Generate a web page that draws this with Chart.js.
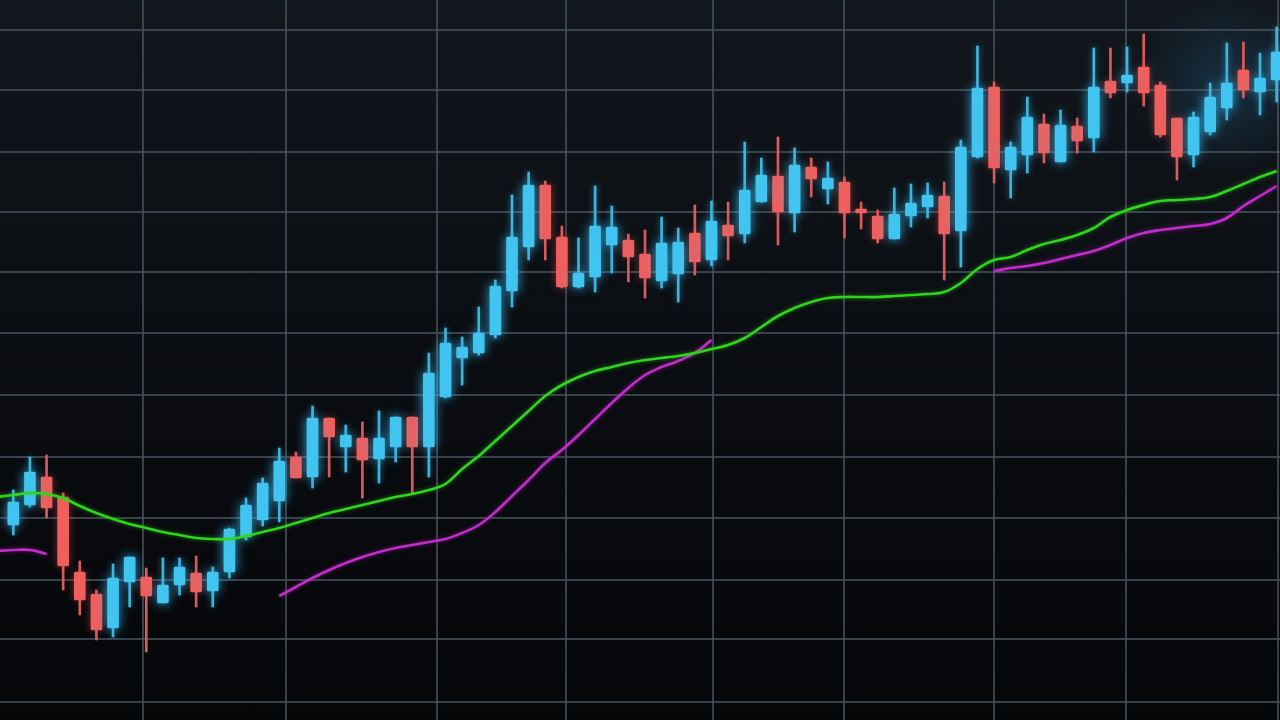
<!DOCTYPE html>
<html>
<head>
<meta charset="utf-8">
<script src="https://cdn.jsdelivr.net/npm/chart.js@4.4.1/dist/chart.umd.min.js"></script>
<style>
    html, body { margin: 0; padding: 0; }
    body {
        width: 1280px;
        height: 720px;
        overflow: hidden;
        background:
            radial-gradient(circle at 1225px 85px, rgba(40, 120, 170, 0.28) 0px, rgba(40, 120, 170, 0) 90px),
            linear-gradient(180deg, #12171d 0%, #0b0e12 45%, #050608 100%);
    }
    #wrap { position: relative; width: 1280px; height: 720px; }
</style>
</head>
<body>
<div id="wrap"><canvas id="chart"></canvas></div>
<script>
// OHLC per session (price units)
const opens = [47.5,49.5,52.3,50.3,42.8,40.6,37.2,41.8,42.3,39.7,
    41.5,42.7,40.9,42.8,46.3,48.0,49.9,54.3,52.3,58.2,
    55.3,56.2,54.1,55.3,58.3,55.3,60.3,64.2,64.7,66.5,
    70.9,75.3,81.5,76.3,71.3,72.3,75.5,76.0,74.6,71.9,
    72.6,76.7,74.0,77.5,76.6,79.8,82.4,78.7,83.3,81.1,
    81.8,79.1,78.4,76.1,78.4,79.3,80.4,76.9,84.3,91.3,
    83.0,84.5,87.6,83.8,87.4,86.2,91.9,91.7,93.3,91.5,
    88.2,84.5,86.8,89.2,93.0,90.8,92.0];
const highs = [51.0,54.3,54.5,50.7,43.9,41.0,43.6,44.3,43.2,44.2,
    44.2,44.4,43.3,47.2,50.2,52.2,55.2,54.8,59.4,58.2,
    57.5,57.8,58.9,58.3,58.3,64.7,67.2,66.3,69.3,72.0,
    80.5,82.8,81.9,77.4,76.2,81.4,79.4,76.6,77.0,78.3,
    77.2,79.5,79.9,79.8,85.8,84.2,86.3,85.2,84.2,83.8,
    82.3,79.8,79.0,81.2,81.6,81.7,81.8,86.0,95.4,91.8,
    85.8,90.3,88.6,89.0,88.2,95.2,95.2,95.3,96.6,91.8,
    88.2,88.8,91.7,95.7,95.8,94.7,97.3];
const lows = [46.5,49.3,48.2,41.0,38.5,36.0,36.3,39.3,34.8,39.7,
    40.5,39.3,39.3,42.2,46.0,47.4,47.8,52.2,51.2,52.3,
    52.8,50.2,51.7,53.8,50.7,52.3,60.2,61.5,64.5,66.2,
    69.3,74.0,74.0,71.2,71.2,70.8,72.7,71.8,70.2,71.2,
    69.8,72.5,73.4,74.0,75.7,79.8,75.5,76.8,80.3,79.6,
    76.2,77.1,75.7,76.1,77.3,78.2,72.0,73.3,84.2,81.7,
    80.2,82.7,83.7,83.8,84.7,84.8,90.2,90.8,89.4,86.3,
    82.0,83.3,86.5,88.0,90.2,88.5,89.8];
const closes = [49.8,52.8,49.2,43.4,40.0,37.0,42.2,44.3,40.4,41.5,
    43.3,40.8,42.8,47.1,49.5,51.7,53.9,52.2,58.2,56.3,
    56.5,54.0,56.2,58.3,55.3,62.7,65.7,65.3,66.7,71.4,
    76.3,81.5,76.1,71.3,72.7,77.4,77.3,74.3,72.2,75.7,
    75.8,73.8,77.9,76.4,81.0,82.5,78.8,83.5,82.1,82.2,
    78.7,78.7,76.1,78.6,79.7,80.5,76.6,85.3,91.2,83.2,
    85.3,88.3,84.7,87.5,85.9,91.3,90.7,92.5,90.7,86.5,
    84.3,88.3,90.3,91.7,91.0,92.2,94.8];

// moving averages, first value is the session before the first candle
const maFast = [50.3,
    50.5,50.7,50.6,50.2,49.4,48.7,48.1,47.6,47.2,46.8,
    46.5,46.2,46.1,46.1,46.4,46.8,47.2,47.7,48.2,48.7,
    49.1,49.5,49.9,50.3,50.6,51.0,51.6,53.1,54.4,55.9,
    57.4,58.9,60.4,61.5,62.3,62.9,63.3,63.7,64.0,64.2,
    64.4,64.7,65.1,65.5,66.2,67.3,68.4,69.2,69.8,70.2,
    70.3,70.3,70.3,70.4,70.5,70.6,70.8,71.7,73.1,74.0,
    74.3,75.0,75.6,76.0,76.5,77.2,78.3,79.0,79.5,79.9,
    80.0,80.1,80.3,80.9,81.6,82.3,82.9];
const maSlow = [44.9,
    45.0,45.0,44.6,null,null,null,null,null,null,null,
    null,null,null,null,null,null,40.4,41.3,42.2,43.0,
    43.7,44.3,44.8,45.2,45.5,45.8,46.1,46.7,47.5,48.8,
    50.4,52.0,53.7,55.0,56.5,58.1,59.7,61.2,62.5,63.3,
    63.9,64.7,66.0,null,null,null,null,null,null,null,
    null,null,null,null,null,null,null,null,null,72.9,
    73.2,73.4,73.7,74.1,74.5,74.9,75.5,76.2,76.7,77.0,
    77.2,77.4,77.6,78.2,79.4,80.4,81.4];

// grid line positions (session / price units)
const gridSessions = [7.8, 16.4, 25.5, 33.25, 42.1, 50.0, 59.0, 66.95, 76.05];
const gridPrices = [97.0, 91.0, 84.8, 78.8, 72.8, 66.7, 60.5, 54.3, 48.2, 42.0, 36.1, 29.8];

const UP = "#41c4f0";
const DOWN = "#ef5f5d";

const days = opens.map((_, i) => i);
const upDays = days.filter((i) => closes[i] >= opens[i]);
const downDays = days.filter((i) => closes[i] < opens[i]);

function bodies(list) {
    return list.map((i) => ({ x: i, y: [opens[i], closes[i]] }));
}
function wicks(list) {
    return list.map((i) => ({ x: i, y: [lows[i], highs[i]] }));
}
function maPoints(arr) {
    return arr.map((v, k) => ({ x: k - 1, y: v }));
}

const glowPlugin = {
    id: "glow",
    beforeDatasetDraw(chart, args) {
        const ds = chart.data.datasets[args.index];
        if (!ds.glow) return;
        const ctx = chart.ctx;
        ctx.save();
        ctx.shadowColor = ds.glow;
        ctx.shadowBlur = ds.glowBlur || 10;
    },
    afterDatasetDraw(chart, args) {
        const ds = chart.data.datasets[args.index];
        if (!ds.glow) return;
        chart.ctx.restore();
    }
};

new Chart(document.getElementById("chart"), {
    type: "bar",
    data: {
        datasets: [
            {
                type: "line",
                label: "MA fast",
                data: maPoints(maFast),
                borderColor: "#2fd41c",
                borderWidth: 2.6,
                pointRadius: 0,
                tension: 0.4,
                spanGaps: false,
                order: 0,
                glow: "rgba(60,220,40,0.5)",
                glowBlur: 4
            },
            {
                type: "line",
                label: "MA slow",
                data: maPoints(maSlow),
                borderColor: "#c12ccb",
                borderWidth: 2.6,
                pointRadius: 0,
                tension: 0.4,
                spanGaps: false,
                order: 0,
                glow: "rgba(200,40,210,0.5)",
                glowBlur: 4
            },
            {
                label: "up body",
                data: bodies(upDays),
                backgroundColor: UP,
                barThickness: 11,
                grouped: false,
                borderSkipped: false,
                borderRadius: 1.5,
                order: 1,
                glow: "rgba(60,190,245,0.85)",
                glowBlur: 12
            },
            {
                label: "down body",
                data: bodies(downDays),
                backgroundColor: DOWN,
                barThickness: 11,
                grouped: false,
                borderSkipped: false,
                borderRadius: 1.5,
                order: 1,
                glow: "rgba(240,90,90,0.45)",
                glowBlur: 8
            },
            {
                label: "up wick",
                data: wicks(upDays),
                backgroundColor: "#3fb4dc",
                barThickness: 2,
                grouped: false,
                borderSkipped: false,
                order: 2,
                glow: "rgba(60,190,245,0.6)",
                glowBlur: 6
            },
            {
                label: "down wick",
                data: wicks(downDays),
                backgroundColor: "#dc5a5c",
                barThickness: 2,
                grouped: false,
                borderSkipped: false,
                order: 2
            }
        ]
    },
    options: {
        responsive: true,
        maintainAspectRatio: false,
        animation: false,
        layout: { padding: 0 },
        plugins: {
            legend: { display: false },
            tooltip: { enabled: false }
        },
        scales: {
            x: {
                type: "linear",
                min: -0.8,
                max: 76.2,
                offset: false,
                border: { display: false },
                ticks: { display: false },
                afterBuildTicks: (scale) => {
                    scale.ticks = gridSessions.map((v) => ({ value: v }));
                },
                grid: {
                    offset: false,
                    drawTicks: false,
                    color: "rgba(72,84,96,0.75)",
                    lineWidth: 2
                }
            },
            y: {
                min: 28,
                max: 100,
                border: { display: false },
                ticks: { display: false },
                afterBuildTicks: (scale) => {
                    scale.ticks = gridPrices.map((v) => ({ value: v }));
                },
                grid: {
                    drawTicks: false,
                    color: "rgba(72,84,96,0.75)",
                    lineWidth: 2
                }
            }
        }
    },
    plugins: [glowPlugin]
});
</script>
</body>
</html>
